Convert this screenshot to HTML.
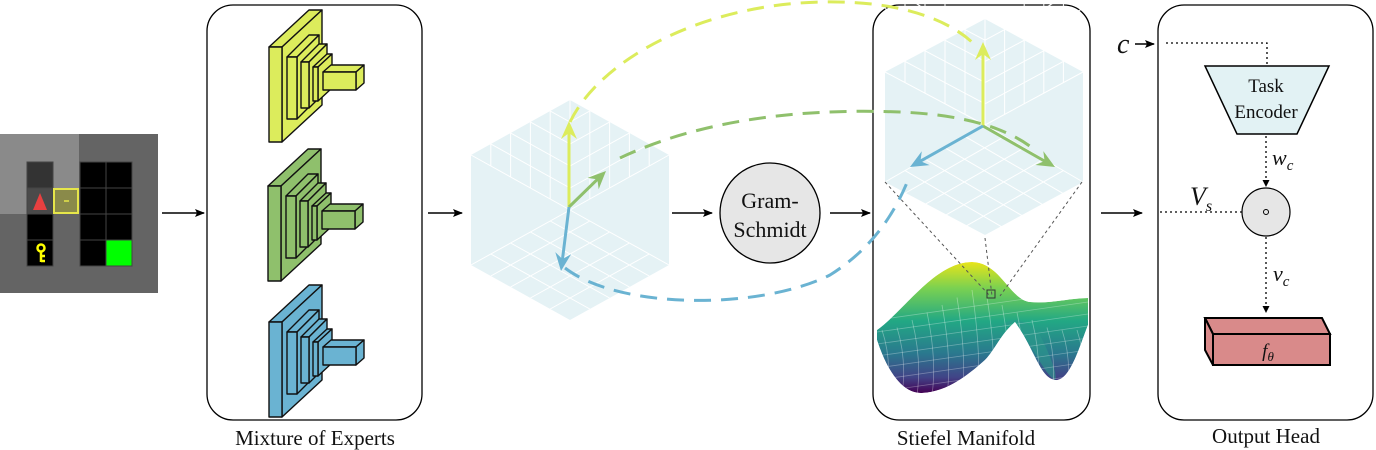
<!DOCTYPE html>
<html><head><meta charset="utf-8"><style>
html,body{margin:0;padding:0;background:#fff;}
svg{display:block;}
text{font-family:"Liberation Serif",serif;fill:#111;}
</style></head><body>
<svg id="s" width="1376" height="450" viewBox="0 0 1376 450" xmlns="http://www.w3.org/2000/svg">
<defs>
<marker id="ah" markerWidth="10" markerHeight="8" refX="9" refY="4" orient="auto" markerUnits="userSpaceOnUse"><path d="M0,0 L10,4 L0,8 L2,4 z" fill="#000"/></marker>
<marker id="ahs" markerWidth="7" markerHeight="7" refX="6" refY="3.5" orient="auto" markerUnits="userSpaceOnUse"><path d="M0,0 L7,3.5 L0,7 z" fill="#000"/></marker>
<linearGradient id="vir" x1="0" y1="0" x2="0" y2="1">
<stop offset="0" stop-color="#e8e419"/><stop offset="0.2" stop-color="#7ad151"/><stop offset="0.45" stop-color="#22a884"/><stop offset="0.7" stop-color="#2a788e"/><stop offset="0.88" stop-color="#414487"/><stop offset="1" stop-color="#440154"/>
</linearGradient>
</defs>

<rect x="0" y="134" width="158" height="159" fill="#646464"/>
<rect x="0" y="134" width="79" height="80" fill="#8a8a8a"/>
<g stroke="#444" stroke-width="1">
<rect x="27" y="162" width="26" height="26" fill="#333"/>
<rect x="27" y="188" width="26" height="26" fill="#4a4a4a"/>
<rect x="27" y="214" width="26" height="26" fill="#000"/>
<rect x="27" y="240" width="26" height="26" fill="#000"/>
<rect x="80" y="162" width="26" height="26" fill="#000"/>
<rect x="106" y="162" width="26" height="26" fill="#000"/>
<rect x="80" y="188" width="26" height="26" fill="#000"/>
<rect x="106" y="188" width="26" height="26" fill="#000"/>
<rect x="80" y="214" width="26" height="26" fill="#000"/>
<rect x="106" y="214" width="26" height="26" fill="#000"/>
<rect x="80" y="240" width="26" height="26" fill="#000"/>
<rect x="106" y="240" width="26" height="26" fill="#00ff00"/>
</g>
<rect x="54" y="189" width="24" height="24" fill="#8a8a4a" stroke="#e6e64a" stroke-width="2"/>
<line x1="64" y1="201" x2="69" y2="201" stroke="#e6e64a" stroke-width="1.5"/>
<polygon points="40,193 33,210 47,210" fill="#e84040"/>
<g fill="none" stroke="#ffff00" stroke-width="2.5"><circle cx="41" cy="248" r="3.5"/><path d="M41,251 V262 M41,256 H45 M41,261 H45"/></g>

<g stroke="#000" stroke-width="1.6" marker-end="url(#ah)">
<line x1="162" y1="213" x2="204" y2="213"/>
<line x1="428" y1="213" x2="462" y2="213"/>
<line x1="672" y1="213" x2="712" y2="213"/>
<line x1="830" y1="213" x2="870" y2="213"/>
<line x1="1101" y1="213" x2="1142" y2="213"/>
<line x1="1135" y1="44" x2="1154" y2="44"/>
</g>

<g fill="none" stroke="#000" stroke-width="1.3">
<rect x="207" y="5" width="215" height="415" rx="26"/>
<rect x="873" y="5" width="217" height="415" rx="26"/>
<rect x="1158" y="5" width="215" height="415" rx="26"/>
</g>
<text x="315" y="445" font-size="21" text-anchor="middle">Mixture of Experts</text>
<text x="966" y="445" font-size="21" text-anchor="middle">Stiefel Manifold</text>
<text x="1266" y="443" font-size="21" text-anchor="middle">Output Head</text>

<g id="experts"></g>
<g id="hex1"></g>
<g id="hex2"></g>

<circle cx="770" cy="213" r="50" fill="#e6e6e6" stroke="#000" stroke-width="1.3"/>
<text x="770" y="208" font-size="22" text-anchor="middle">Gram-</text>
<text x="770" y="237" font-size="22" text-anchor="middle">Schmidt</text>

<g id="surf">
<path d="M877,330 C905,310 935,262 972,262 C1000,262 1010,300 1030,302 C1050,304 1070,298 1088,298 L1088,325 C1080,345 1070,382 1055,380 C1040,378 1035,350 1015,322 C1000,335 995,350 985,360 C965,378 945,392 922,393 C900,394 885,365 877,340 Z" fill="url(#vir)"/>
<path d="M1000,328 C1010,315 1025,318 1040,335 C1050,355 1058,375 1055,380 C1045,375 1035,350 1015,322Z" fill="#2b9a8a" opacity="0.6"/>
</g>
<g stroke="#555" stroke-width="1" stroke-dasharray="3,3" fill="none">
<line x1="885" y1="182" x2="990" y2="296"/>
<line x1="1082" y1="182" x2="1000" y2="296"/>
<line x1="985" y1="238" x2="992" y2="296"/>
</g>
<rect x="987" y="290" width="8" height="8" fill="none" stroke="#333" stroke-width="1"/>

<text x="1117" y="53" font-size="28" font-style="italic">c</text>
<polyline points="1166,43 1267,43 1267,64" fill="none" stroke="#000" stroke-width="1.3" stroke-dasharray="2,3"/>
<polygon points="1205,66 1329,66 1297,134 1237,134" fill="#e2f2f4" stroke="#000" stroke-width="1.5"/>
<text x="1266" y="92" font-size="19" text-anchor="middle">Task</text>
<text x="1266" y="118" font-size="19" text-anchor="middle">Encoder</text>
<line x1="1266" y1="136" x2="1266" y2="186" stroke="#000" stroke-width="1.3" stroke-dasharray="2,3" marker-end="url(#ahs)"/>
<text x="1272" y="165" font-size="22" font-style="italic">w<tspan font-size="15" dy="5">c</tspan></text>
<line x1="1160" y1="212" x2="1242" y2="212" stroke="#000" stroke-width="1.3" stroke-dasharray="2,3"/>
<text x="1190" y="205" font-size="26" font-style="italic">V<tspan font-size="16" dy="6">s</tspan></text>
<circle cx="1266" cy="212" r="24" fill="#e6e6e6" stroke="#000" stroke-width="1.2"/>
<circle cx="1266" cy="212" r="2.5" fill="none" stroke="#000" stroke-width="1"/>
<line x1="1266" y1="237" x2="1266" y2="312" stroke="#000" stroke-width="1.3" stroke-dasharray="2,3" marker-end="url(#ahs)"/>
<text x="1273" y="281" font-size="22" font-style="italic">v<tspan font-size="15" dy="5">c</tspan></text>
<polygon points="1205,318 1322,318 1330,334 1213,334" fill="#d98a8a" stroke="#000" stroke-width="2"/>
<polygon points="1205,318 1213,334 1213,365 1205,350" fill="#d98a8a" stroke="#000" stroke-width="2"/>
<rect x="1213" y="334" width="117" height="31" fill="#d98a8a" stroke="#000" stroke-width="2"/>
<text x="1268" y="357" font-size="19" font-style="italic" text-anchor="middle">f<tspan font-size="13" dy="4">θ</tspan></text>
</svg>
<script>
var NS="http://www.w3.org/2000/svg";
function el(p,t,a){var e=document.createElementNS(NS,t);for(var k in a)e.setAttribute(k,a[k]);p.appendChild(e);return e;}
var ex=document.getElementById('experts');
var layers=[[0,13,0,95,40,-37],[18,10,10,62,22,-22],[32,8,15,46,18,-18],[44,5,20,34,14,-13],[54,33,25,18,8,-7]];
[[269,47,'#dcec5c'],[268,186,'#8fc06c'],[269,322,'#6ab3d2']].forEach(function(o){
 var g=el(ex,'g',{transform:'translate('+o[0]+','+o[1]+')',fill:o[2],stroke:'#111','stroke-width':1.4,'stroke-linejoin':'round'});
 layers.forEach(function(L){var x=L[0],w=L[1],y=L[2],h=L[3],dx=L[4],dy=L[5];
  el(g,'polygon',{points:[x,y,x+dx,y+dy,x+w+dx,y+dy,x+w,y].join(',')});
  el(g,'polygon',{points:[x+w,y,x+w+dx,y+dy,x+w+dx,y+h+dy,x+w,y+h].join(',')});
  el(g,'rect',{x:x,y:y,width:w,height:h});
 });
});
function hex(gid,T,UL,UR,C,LL,LR,B){
 var g=document.getElementById(gid);
 el(g,'polygon',{points:[T,UR,LR,B,LL,UL].map(function(p){return p.join(',')}).join(' '),fill:'#e5f2f5'});
 var faces=[[C,T,UL],[C,T,UR],[C,LL,LR]];
 faces.forEach(function(f){var a=f[0],b=f[1],d=f[2];
  for(var i=1;i<5;i++){var t=i/5;
   var p1=[a[0]+(b[0]-a[0])*t,a[1]+(b[1]-a[1])*t],p2=[p1[0]+d[0]-a[0],p1[1]+d[1]-a[1]];
   el(g,'line',{x1:p1[0],y1:p1[1],x2:p2[0],y2:p2[1],stroke:'#fff','stroke-width':1});
   var q1=[a[0]+(d[0]-a[0])*t,a[1]+(d[1]-a[1])*t],q2=[q1[0]+b[0]-a[0],q1[1]+b[1]-a[1]];
   el(g,'line',{x1:q1[0],y1:q1[1],x2:q2[0],y2:q2[1],stroke:'#fff','stroke-width':1});
  }
  [b,d].forEach(function(p){el(g,'line',{x1:a[0],y1:a[1],x2:p[0],y2:p[1],stroke:'#fff','stroke-width':1});});
 });
}
hex('hex1',[570,100],[471,155],[669,155],[570,210],[471,265],[669,265],[570,320]);
hex('hex2',[985,19],[885,72],[1083,72],[985,125],[885,182],[1083,182],[985,235]);
var s=document.getElementById('s');
function arrow(x1,y1,x2,y2,c){
 var dx=x2-x1,dy=y2-y1,L=Math.hypot(dx,dy),ux=dx/L,uy=dy/L,hl=18,hw=8;
 var bx=x2-ux*hl,by=y2-uy*hl;
 el(s,'line',{x1:x1,y1:y1,x2:x2-ux*8,y2:y2-uy*8,stroke:c,'stroke-width':3});
 el(s,'polygon',{points:[x2,y2,bx-uy*hw,by+ux*hw,x2-ux*12,y2-uy*12,bx+uy*hw,by-ux*hw].join(','),fill:c});
}
var Y='#dcec5c',G='#8fc06c',Bl='#6ab3d2';
[['M570,122 C600,60 700,5 820,2 C900,0 950,20 975,45',Y],
 ['M620,158 C700,120 800,108 900,112 C970,115 1010,130 1035,150',G],
 ['M565,268 C620,310 760,310 830,275 C870,250 895,215 910,175',Bl]].forEach(function(d){
 el(s,'path',{d:d[0],fill:'none',stroke:d[1],'stroke-width':3,'stroke-dasharray':'17,10'});});
arrow(569,207,569,121,Y);arrow(569,207,606,171,G);arrow(569,207,561,271,Bl);
arrow(983,126,983,42,Y);arrow(983,126,1055,167,G);arrow(983,126,910,167,Bl);
var sf=document.getElementById('surf');
for(var i=0;i<14;i++){var x=882+i*15;el(sf,'path',{d:'M'+x+','+(330-Math.max(0,40-Math.abs(x-972)*0.5))+' Q'+(x+10)+',360 '+(x+5)+',395',fill:'none',stroke:'rgba(255,255,255,0.35)','stroke-width':0.8});}
for(var j=0;j<8;j++){var y=290+j*12;el(sf,'line',{x1:877,y1:y+30,x2:1088,y2:y,stroke:'rgba(255,255,255,0.3)','stroke-width':0.8});}
sf.setAttribute('clip-path','url(#sc)');
var cp=el(s.querySelector('defs'),'clipPath',{id:'sc'});
el(cp,'path',{d:sf.querySelector('path').getAttribute('d')});
</script>
</body></html>
